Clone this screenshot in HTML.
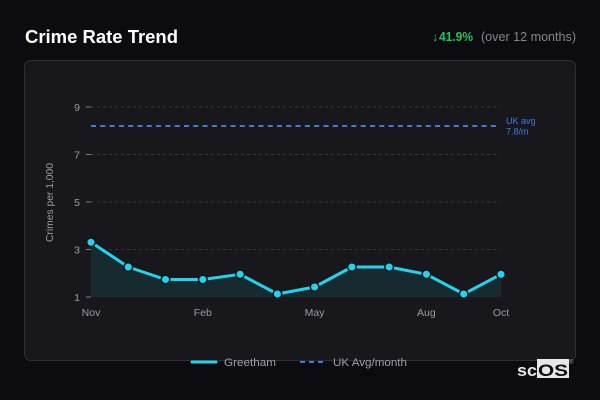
<!DOCTYPE html>
<html>
<head>
<meta charset="utf-8">
<style>
  html,body{margin:0;padding:0;background:#0c0c10;}
  body{width:600px;height:400px;overflow:hidden;}
  svg{display:block;}
  text{font-family:"Liberation Sans","DejaVu Sans",sans-serif;}
</style>
</head>
<body>
<svg width="600" height="400" viewBox="0 0 600 400" xmlns="http://www.w3.org/2000/svg">
  <rect x="0" y="0" width="600" height="400" fill="#0c0c10"/>

  <!-- Title -->
  <text x="25" y="43" font-size="18" font-weight="bold" fill="#ffffff" textLength="153" lengthAdjust="spacingAndGlyphs">Crime Rate Trend</text>

  <!-- Top right stat -->
  <text x="432" y="41" font-size="12.5" fill="#22c55e" font-family="'DejaVu Sans',sans-serif">↓</text>
  <text x="439" y="41" font-size="12.5" font-weight="bold" fill="#22c55e" textLength="34" lengthAdjust="spacingAndGlyphs">41.9%</text>
  <text x="481" y="41" font-size="12.5" fill="#85858c" textLength="95" lengthAdjust="spacingAndGlyphs">(over 12 months)</text>

  <!-- Card -->
  <rect x="24.5" y="60.5" width="551" height="300" rx="6" ry="6" fill="#18181c" stroke="#2e2e34" stroke-width="1"/>

  <!-- Gridlines -->
  <g stroke="#34343a" stroke-width="1" stroke-dasharray="3,3">
    <line x1="91" y1="107" x2="500" y2="107"/>
    <line x1="91" y1="154.5" x2="500" y2="154.5"/>
    <line x1="91" y1="202" x2="500" y2="202"/>
    <line x1="91" y1="249.5" x2="500" y2="249.5"/>
  </g>

  <!-- Y tick marks -->
  <g stroke="#7a7a82" stroke-width="1">
    <line x1="86" y1="107" x2="91" y2="107"/>
    <line x1="86" y1="154.5" x2="91" y2="154.5"/>
    <line x1="86" y1="202" x2="91" y2="202"/>
    <line x1="86" y1="249.5" x2="91" y2="249.5"/>
    <line x1="86" y1="297" x2="91" y2="297"/>
  </g>

  <!-- Y tick labels -->
  <g font-size="10.5" fill="#9a9aa2" text-anchor="end">
    <text x="80" y="111">9</text>
    <text x="80" y="158.5">7</text>
    <text x="80" y="206">5</text>
    <text x="80" y="253.5">3</text>
    <text x="80" y="301">1</text>
  </g>

  <!-- Y axis title -->
  <text transform="translate(53,202.5) rotate(-90)" font-size="10.5" fill="#9a9aa2" text-anchor="middle" textLength="79" lengthAdjust="spacingAndGlyphs">Crimes per 1,000</text>

  <!-- X labels -->
  <g font-size="10.5" fill="#9a9aa2" text-anchor="middle">
    <text x="91" y="316">Nov</text>
    <text x="202.8" y="316">Feb</text>
    <text x="314.6" y="316">May</text>
    <text x="426.4" y="316">Aug</text>
    <text x="501" y="316">Oct</text>
  </g>

  <!-- UK avg line -->
  <line x1="91" y1="126" x2="496" y2="126" stroke="#3b7ddd" stroke-width="2" stroke-dasharray="5,4.3"/>
  <text x="506" y="124" font-size="9" fill="#3b7ddd">UK avg</text>
  <text x="506" y="134.5" font-size="9" fill="#3b7ddd">7.8/m</text>

  <!-- Area -->
  <polygon fill="#172a30" points="91,297 91,242.3 128.3,267 165.5,279.5 202.8,279.5 240.1,274.3 277.4,294 314.6,287 351.9,267 389.2,267 426.4,274.3 463.7,294 501,274.3 501,297"/>

  <!-- Line -->
  <polyline fill="none" stroke="#22d3ee" stroke-width="3" stroke-linejoin="round" stroke-linecap="round" points="91,242.3 128.3,267 165.5,279.5 202.8,279.5 240.1,274.3 277.4,294 314.6,287 351.9,267 389.2,267 426.4,274.3 463.7,294 501,274.3"/>

  <!-- Markers -->
  <g fill="#22d3ee" stroke="#0e181c" stroke-width="1.5">
    <circle cx="91" cy="242.3" r="4.3"/>
    <circle cx="128.3" cy="267" r="4.3"/>
    <circle cx="165.5" cy="279.5" r="4.3"/>
    <circle cx="202.8" cy="279.5" r="4.3"/>
    <circle cx="240.1" cy="274.3" r="4.3"/>
    <circle cx="277.4" cy="294" r="4.3"/>
    <circle cx="314.6" cy="287" r="4.3"/>
    <circle cx="351.9" cy="267" r="4.3"/>
    <circle cx="389.2" cy="267" r="4.3"/>
    <circle cx="426.4" cy="274.3" r="4.3"/>
    <circle cx="463.7" cy="294" r="4.3"/>
    <circle cx="501" cy="274.3" r="4.3"/>
  </g>

  <!-- Legend -->
  <line x1="192" y1="362" x2="216" y2="362" stroke="#22d3ee" stroke-width="3" stroke-linecap="round"/>
  <text x="224" y="366" font-size="11" fill="#a0a0a8" textLength="52" lengthAdjust="spacingAndGlyphs">Greetham</text>
  <line x1="300" y1="362" x2="324" y2="362" stroke="#3b7ddd" stroke-width="2" stroke-dasharray="5,4"/>
  <text x="333" y="366" font-size="11" fill="#a0a0a8" textLength="74" lengthAdjust="spacingAndGlyphs">UK Avg/month</text>

  <!-- Logo -->
  <text x="517" y="376" font-size="17" font-weight="bold" fill="#e8e8ec" textLength="20" lengthAdjust="spacingAndGlyphs">sc</text>
  <rect x="537" y="359" width="32" height="19" fill="#e6e6ea"/>
  <text x="538" y="376" font-size="17" font-weight="bold" fill="#0c0c10" textLength="30" lengthAdjust="spacingAndGlyphs">OS</text>
  <text x="569" y="364" font-size="6" fill="#9a9aa0">®</text>
</svg>
</body>
</html>
